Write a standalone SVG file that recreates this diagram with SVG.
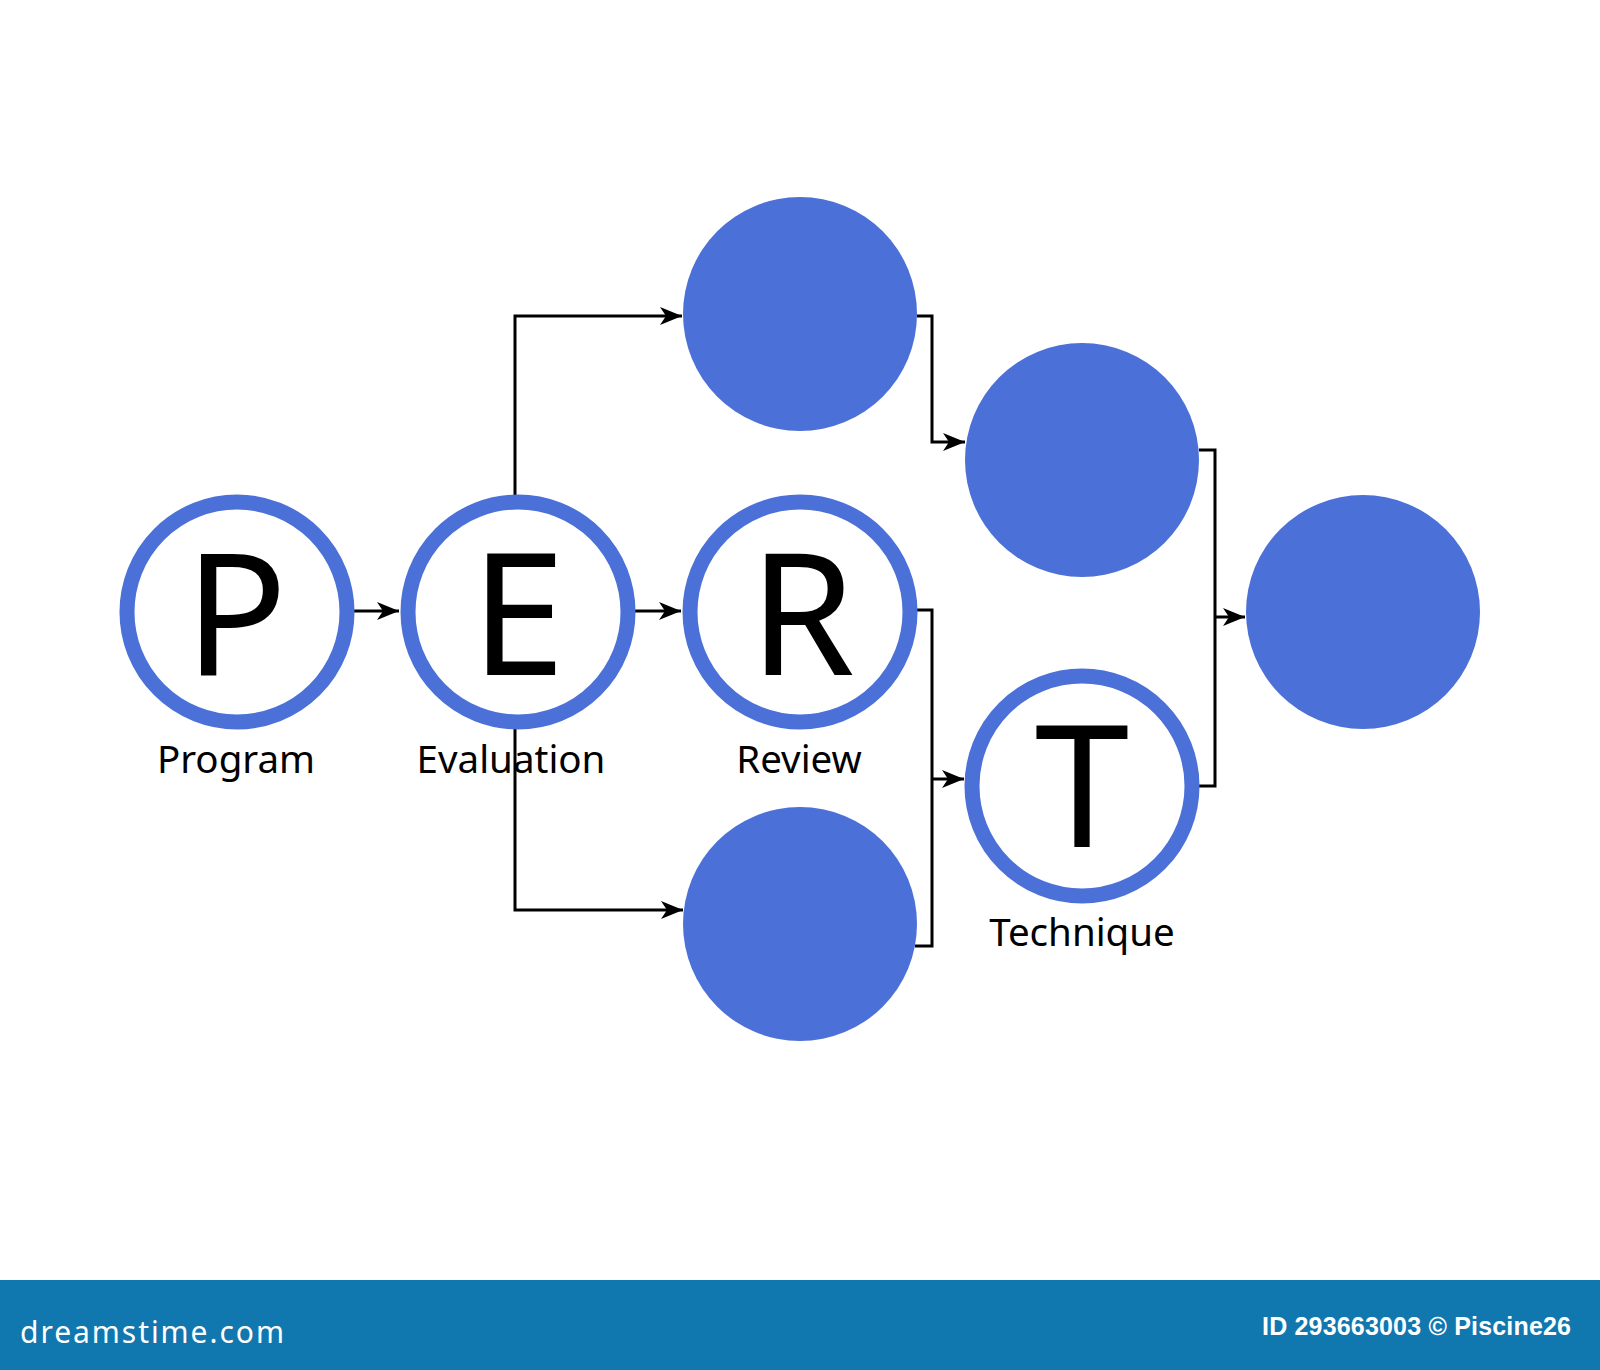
<svg xmlns="http://www.w3.org/2000/svg" width="1600" height="1370" viewBox="0 0 1600 1370">
<defs>
<marker id="arr" markerUnits="userSpaceOnUse" markerWidth="24" markerHeight="20" refX="22" refY="9" orient="auto">
<path d="M0,0 L22,9 L0,18 L6,9 z" fill="#000"/>
</marker>
<style>
.ring{fill:#fff;stroke:#4B70D7;stroke-width:15}
.solid{fill:#4B70D7}
.big{font-family:"Noto Sans","Open Sans",sans-serif;font-size:170px;fill:#000;text-anchor:middle}
.lbl{font-family:"Noto Sans","Open Sans",sans-serif;font-size:38.5px;fill:#000;text-anchor:middle}
.con{fill:none;stroke:#000;stroke-width:3}
</style>
</defs>
<rect width="1600" height="1370" fill="#fff"/>
<g id="connectors">
<path class="con" d="M354,611 H399" marker-end="url(#arr)"/>
<path class="con" d="M635,611 H681" marker-end="url(#arr)"/>
<path class="con" d="M515,495 V316 H682" marker-end="url(#arr)"/>
<path class="con" d="M515,729 V910 H683" marker-end="url(#arr)"/>
<path class="con" d="M917,316 H932 V442 H965" marker-end="url(#arr)"/>
<path class="con" d="M916,610 H932 V946 H915"/>
<path class="con" d="M932,779 H964" marker-end="url(#arr)"/>
<path class="con" d="M1199,450 H1215 V786 H1199"/>
<path class="con" d="M1215,617 H1245" marker-end="url(#arr)"/>
</g>
<g id="node-P">
<circle class="ring" cx="237" cy="612" r="110"/>
<text class="big" x="236" y="675">P</text>
<text class="lbl" x="236" y="773">Program</text>
</g>
<g id="node-E">
<circle class="ring" cx="518" cy="612" r="110"/>
<text class="big" x="518" y="675">E</text>
<text class="lbl" x="511" y="773">Evaluation</text>
</g>
<g id="node-R">
<circle class="ring" cx="800" cy="612" r="110"/>
<text class="big" x="802" y="675">R</text>
<text class="lbl" x="799" y="773">Review</text>
</g>
<g id="node-top">
<circle class="solid" cx="800" cy="314" r="117"/>
</g>
<g id="node-bottom">
<circle class="solid" cx="800" cy="924" r="117"/>
</g>
<g id="node-upper-right">
<circle class="solid" cx="1082" cy="460" r="117"/>
</g>
<g id="node-T">
<circle class="ring" cx="1082" cy="786" r="110"/>
<text class="big" x="1082" y="847">T</text>
<text class="lbl" x="1082" y="946">Technique</text>
</g>
<g id="node-right">
<circle class="solid" cx="1363" cy="612" r="117"/>
</g>
<g id="footer">
<rect x="0" y="1280" width="1600" height="90" fill="#1177AF"/>
<text x="20" y="1343" font-family="'Noto Sans','Liberation Sans',sans-serif" font-size="30" fill="#fff" textLength="264">dreamstime.com</text>
<text x="1571" y="1335" font-family="'Liberation Sans',sans-serif" font-weight="bold" font-size="25" fill="#fff" text-anchor="end" textLength="309">ID 293663003 © Piscine26</text>
</g>
</svg>
